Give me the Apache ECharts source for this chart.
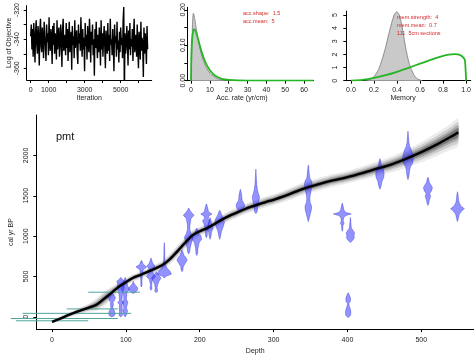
<!DOCTYPE html>
<html><head><meta charset="utf-8">
<script src="https://cdn.jsdelivr.net/npm/echarts@6/dist/echarts.min.js"></script>
<style>html,body{margin:0;padding:0;background:#fff}#c{width:474px;height:360px}</style>
</head><body><div id="c"></div>
<script>
// ---------- data ----------
const traceThin = 34;
const traceValues = [
-338,-330,-347,-333,-352,-329,-341,-356,-335,-327,-344,-350,-331,-339,-358,-334,-326,-345,-349,-332,
-340,-353,-328,-337,-346,-355,-330,-342,-336,-351,-325,-343,-348,-333,-339,-357,-331,-344,-329,-350,
-336,-341,-354,-327,-347,-338,-332,-352,-345,-330,-340,-359,-334,-326,-348,-343,-337,-351,-329,-346,
-333,-355,-339,-328,-349,-342,-335,-361,-331,-344,-338,-353,-327,-346,-340,-334,-350,-357,-330,-343,
-336,-348,-325,-341,-352,-333,-347,-339,-362,-329,-345,-337,-354,-331,-342,-349,-326,-338,-356,-335,
-344,-330,-351,-340,-365,-333,-346,-328,-343,-353,-337,-349,-332,-341,-358,-327,-347,-336,-352,-339,
-331,-345,-360,-334,-342,-350,-329,-348,-337,-355,-326,-344,-340,-351,-333,-346,-362,-330,-343,-338,
-352,-328,-347,-341,-356,-335,-349,-332,-344,-339,-353,-327,-318,-380,-336,-350,-345,-331,-342,-358,
-334,-347,-329,-351,-340,-345,-333,-355,-338,-326,-349,-343,-337,-352,-330,-346,-360,-335,-341,-354,
-328,-348,-339,-344,-366,-332,-350,-336,-343,-357,-331,-347];
const traceXTicks = [0,1000,2000,3000,4000,5000,6000];
const traceXLabels = [0,1000,3000,5000];
const traceYTicks = [-360,-350,-340,-330,-320];
const traceYLabels = [-360,-340,-320];

const accPostX = [0,0.4,0.8,1.2,1.6,2,2.5,3,4,5,6,7,8,10,12,14,16,18,20,22];
const accPost  = [0,0.09,0.165,0.19,0.185,0.172,0.156,0.14,0.11,0.085,0.065,0.05,0.038,0.021,0.012,0.006,0.003,0.0015,0.0006,0];
const accPriorX = [0,0.1,0.25,0.5,1,1.5,2,3,4,5,6,7,8,10,12,14,16,18,20,25,30,40,65];
const accPrior  = [0,0.057,0.086,0.113,0.137,0.145,0.144,0.131,0.112,0.0925,0.075,0.060,0.0476,0.0292,0.0175,0.0104,0.0061,0.0036,0.0021,0.0005,0.0001,0,0];
const accXTicks = [0,10,20,30,40,50,60];
const accYTicks = [0,0.05,0.1,0.15,0.2];
const accYLabels = [0,0.1,0.2];

const memPostX = [0.12,0.16,0.2,0.24,0.27,0.3,0.33,0.36,0.38,0.4,0.42,0.44,0.46,0.48,0.5,0.52,0.55,0.58,0.62];
const memPost  = [0,0.08,0.3,0.85,1.6,2.5,3.6,4.6,5.1,5.25,5.0,4.3,3.3,2.3,1.5,0.95,0.4,0.12,0];
const memPriorX = [0,0.1,0.2,0.3,0.4,0.5,0.6,0.7,0.8,0.85,0.9,0.95,0.98,0.99,1.0];
const memPrior  = [0,0.06,0.21,0.42,0.68,0.98,1.30,1.61,1.89,1.99,2.03,1.95,1.72,1.52,0];
const memXTicks = [0,0.2,0.4,0.6,0.8,1.0];
const memYTicks = [0,1,2,3,4,5];

const modelDepth  = [0,10,20,30,40,50,60,70,80,90,100,110,120,130,140,150,160,170,180,190,200,210,220,230,240,250,260,270,280,290,300,320,340,360,380,400,420,440,460,480,500,520,540,550];
const modelAge    = [-60,-25,15,50,85,115,150,220,295,370,430,485,520,560,600,645,720,815,915,1010,1060,1100,1150,1205,1250,1290,1330,1365,1395,1425,1450,1515,1585,1640,1690,1730,1780,1835,1890,1960,2040,2130,2230,2285];
const modelSpread = [8,10,12,14,16,20,30,35,30,22,18,18,18,18,20,22,25,28,28,25,22,22,22,22,24,24,24,25,25,26,26,28,30,30,30,30,32,34,38,42,48,55,62,66];

const dateDepth = [81,93,99,110,121,134,141,152,176,185,196,209,214,227,255,276,347,393,404,401,444,482,509,549];
const dateProfiles = [
 [[0,0],[15,0.8],[40,1.1],[70,0.9],[100,0.5],[120,0.3],[150,0.5],[180,0.4],[210,0.9],[240,1.2],[265,0.8],[285,0.3],[300,0]],
 [[0,0],[20,0.6],[60,0.4],[100,0.5],[150,0.4],[180,1.0],[200,0.4],[260,0.5],[320,0.8],[360,1.2],[400,1.0],[440,1.3],[470,0.4],[490,0]],
 [[0,0],[30,0.5],[80,0.8],[110,0.4],[180,0.9],[220,0.4],[300,0.6],[340,1.4],[380,0.9],[420,0.6],[460,0.3],[490,0]],
 [[290,0],[310,0.9],[340,1.5],[370,1.3],[395,0.6],[420,0.2],[440,0]],
 [[370,0],[390,0.2],[450,0.2],[520,0.3],[580,0.5],[620,1.8],[650,0.6],[680,0.3],[700,0]],
 [[330,0],[350,0.3],[400,0.2],[460,0.5],[500,1.5],[540,0.7],[580,0.5],[630,1.3],[670,0.5],[710,0.2],[730,0]],
 [[300,0],[320,0.5],[360,0.3],[400,0.5],[440,0.9],[480,1.6],[510,1.0],[540,0.3],[560,0]],
 [[480,0],[500,0.4],[530,2.4],[570,1.8],[600,1.0],[640,0.5],[700,0.2],[780,0.15],[860,0.1],[920,0]],
 [[560,0],[580,0.3],[620,0.4],[660,1.0],[700,1.7],[730,1.4],[760,0.7],[800,0.3],[830,0]],
 [[780,0],[800,0.3],[850,0.5],[900,0.8],[950,1.2],[990,1.4],[1030,0.8],[1080,0.4],[1130,0.4],[1180,0.6],[1220,0.8],[1260,1.8],[1290,1.0],[1320,0.4],[1350,0]],
 [[760,0],[790,0.3],[850,0.4],[920,0.8],[960,1.6],[1000,1.4],[1040,0.6],[1080,0.3],[1100,0]],
 [[980,0],[1010,0.3],[1060,0.3],[1100,0.5],[1150,0.8],[1190,1.3],[1220,0.6],[1250,0.8],[1275,1.9],[1300,0.7],[1340,0.5],[1380,0.2],[1400,0]],
 [[960,0],[1000,0.3],[1050,0.5],[1100,1.0],[1140,0.6],[1180,0.4],[1230,0]],
 [[960,0],[1000,0.3],[1060,0.6],[1120,1.2],[1170,1.6],[1220,1.3],[1260,0.7],[1300,0.3],[1320,0]],
 [[1300,0],[1320,0.7],[1360,1.4],[1400,1.3],[1440,0.6],[1480,0.5],[1520,0.4],[1560,0.15],[1580,0]],
 [[1280,0],[1300,0.4],[1350,0.6],[1400,0.8],[1450,1.1],[1490,1.2],[1530,0.8],[1580,0.5],[1640,0.3],[1700,0.2],[1760,0.1],[1830,0]],
 [[1180,0],[1220,0.3],[1280,0.7],[1320,1.0],[1370,1.1],[1420,0.6],[1470,0.5],[1520,0.7],[1580,1.0],[1630,1.3],[1680,1.1],[1720,0.5],[1780,0.3],[1860,0.1],[1880,0]],
 [[1060,0],[1080,0.15],[1130,0.2],[1160,0.6],[1190,0.3],[1230,0.5],[1255,1.2],[1275,3.0],[1295,1.0],[1330,0.5],[1370,0.3],[1410,0]],
 [[920,0],[950,0.8],[980,1.3],[1010,1.2],[1040,1.4],[1070,0.9],[1100,0.3],[1150,0.2],[1200,0.1],[1230,0]],
 [[-10,0],[20,0.8],[60,0.9],[100,0.7],[140,0.3],[165,0.2],[190,0.7],[230,0.8],[270,0.4],[300,0]],
 [[1580,0],[1620,0.4],[1680,0.7],[1730,1.3],[1780,1.4],[1830,1.2],[1870,0.5],[1920,0.3],[1960,0]],
 [[1700,0],[1740,0.3],[1800,0.5],[1860,0.8],[1900,1.5],[1960,1.8],[2010,1.6],[2060,1.2],[2110,0.6],[2160,0.3],[2220,0.2],[2300,0]],
 [[1380,0],[1410,0.3],[1450,0.5],[1490,0.9],[1530,0.6],[1560,1.2],[1600,1.5],[1640,0.9],[1670,0.4],[1700,0.3],[1730,0]],
 [[1180,0],[1220,0.3],[1270,0.6],[1310,1.4],[1340,2.3],[1370,1.2],[1420,0.5],[1470,0.3],[1510,0.2],[1550,0]]
];

const pmtAge   = [306,99,44,-20,-48];
const pmtFrom  = [49,20,-40,-56,-49];
const pmtTo    = [119,89,107,89,49];

const mainXTicks = [0,100,200,300,400,500];
const mainYTicks = [0,500,1000,1500,2000];

// ---------- chart ----------
const FONT = 'Liberation Sans';
const TXT = '#222';
function axisBase(gridIndex, min, max, ticks, labels, fmt, isY, name, nameGap, margin, namePad) {
  return {
    type: 'value', gridIndex, min, max, name: name || '',
    nameLocation: 'middle', nameGap: nameGap,
    nameRotate: isY ? 90 : 0,
    nameTextStyle: {fontFamily: FONT, fontSize: 7, color: TXT, padding: namePad || 0},
    splitLine: {show: false},
    axisLine: {show: true, onZero: false, lineStyle: {color: '#000', width: 1}},
    axisTick: {show: true, inside: false, length: 3, customValues: ticks, lineStyle: {color: '#000', width: 1}},
    axisLabel: {show: true, customValues: labels || ticks, fontFamily: FONT, fontSize: 7, color: TXT,
      margin: margin, rotate: isY ? 90 : 0, formatter: fmt || (v => String(v))}
  };
}

const chart = echarts.init(document.getElementById('c'), null, {renderer: 'canvas'});
const RED = '#d42a2a';
const redStyle = {fill: RED, font: '5.5px "Liberation Sans"'};

chart.setOption({
  animation: false,
  backgroundColor: '#fff',
  textStyle: {fontFamily: FONT},
  title: {text: 'pmt', left: 51, top: 126, textStyle: {fontFamily: FONT, fontSize: 11, fontWeight: 'normal', color: '#111'}},
  grid: [
    {left: 26.7, top: 2, width: 125, height: 78},
    {left: 187.3, top: 5, width: 126.2, height: 75.7},
    {left: 346.3, top: 11.1, width: 126.7, height: 69.6},
    {left: 26, top: 115, width: 448, height: 222.7}
  ],
  xAxis: [
    axisBase(0, -222, 6720, traceXTicks, traceXLabels, null, false, 'Iteration', 15, 6.5),
    axisBase(1, -2, 65, accXTicks, accXTicks, null, false, 'Acc. rate (yr/cm)', 14, 6, [0, 17, 0, 0]),
    axisBase(2, -0.04, 1.04, memXTicks, memXTicks, v => v.toFixed(1), false, 'Memory', 12.5, 6, [0, 11, 0, 0]),
    axisBase(3, -21.2, 571.4, mainXTicks, mainXTicks, null, false, 'Depth', 14.5, 7)
  ],
  yAxis: [
    axisBase(0, -368, -317, traceYTicks, traceYLabels, null, true, 'Log of Objective', 14, 6.5),
    axisBase(1, 0, 0.207, accYTicks, accYLabels, v => v.toFixed(2), true, '', 12, 0.5),
    axisBase(2, 0, 5.3, memYTicks, memYTicks, null, true, '', 12, 7.5),
    axisBase(3, -151, 2500, mainYTicks, mainYTicks, null, true, 'cal yr BP', 10, 6.5, [0, 20, 0, 0])
  ],
  graphic: [
    {type: 'text', z: 100, left: 243, top: 10, style: Object.assign({text: 'acc.shape:  1.5'}, redStyle)},
    {type: 'text', z: 100, left: 243, top: 18.5, style: Object.assign({text: 'acc.mean:  5'}, redStyle)},
    {type: 'text', z: 100, left: 397, top: 14, style: Object.assign({text: 'mem.strength:  4'}, redStyle)},
    {type: 'text', z: 100, left: 397, top: 22, style: Object.assign({text: 'mem.mean:  0.7'}, redStyle)},
    {type: 'text', z: 100, left: 397, top: 30, style: Object.assign({text: '111  5cm sections'}, redStyle)}
  ],
  series: [
    {type: 'line', xAxisIndex: 0, yAxisIndex: 0, symbol: 'none',
     data: traceValues.map((v, i) => [i * traceThin, v]),
     lineStyle: {color: '#000', width: 1.4}},
    {type: 'line', xAxisIndex: 1, yAxisIndex: 1, symbol: 'none', smooth: 0.2,
     data: accPostX.map((x, i) => [x, accPost[i]]),
     lineStyle: {color: '#777', width: 0.8}, areaStyle: {color: '#c9c9c9', opacity: 1}},
    {type: 'line', xAxisIndex: 1, yAxisIndex: 1, symbol: 'none', smooth: 0.2,
     data: accPriorX.map((x, i) => [x, accPrior[i]]),
     lineStyle: {color: '#25b525', width: 1.8}},
    {type: 'line', xAxisIndex: 2, yAxisIndex: 2, symbol: 'none', smooth: 0.2,
     data: memPostX.map((x, i) => [x, memPost[i]]),
     lineStyle: {color: '#777', width: 0.8}, areaStyle: {color: '#c9c9c9', opacity: 1}},
    {type: 'line', xAxisIndex: 2, yAxisIndex: 2, symbol: 'none', smooth: 0.2,
     data: memPriorX.map((x, i) => [x, memPrior[i]]),
     lineStyle: {color: '#25b525', width: 1.8}},
    // model uncertainty band
    {type: 'custom', xAxisIndex: 3, yAxisIndex: 3, clip: true,
     data: modelDepth.map((d, i) => [d, modelAge[i], modelSpread[i]]),
     encode: {x: 0, y: 1},
     renderItem: function (params, api) {
       if (params.dataIndex !== 0) return null;
       const levels = [[2.6, 0.08], [1.9, 0.12], [1.3, 0.18], [0.8, 0.28]];
       const children = [];
       levels.forEach(function (lv) {
         const up = [], dn = [];
         modelDepth.forEach(function (d, j) {
           up.push(api.coord([d, modelAge[j] + lv[0] * modelSpread[j]]));
           dn.push(api.coord([d, modelAge[j] - lv[0] * modelSpread[j]]));
         });
         children.push({type: 'polygon', shape: {points: up.concat(dn.reverse()), smooth: 0.2},
           style: {fill: 'rgba(0,0,0,' + lv[1] + ')'}});
       });
       return {type: 'group', children: children};
     }},
    {type: 'line', xAxisIndex: 3, yAxisIndex: 3, symbol: 'none', smooth: 0.3,
     data: modelDepth.map((d, i) => [d, modelAge[i]]),
     lineStyle: {color: '#000', width: 2.4}},
    // calibrated dates
    {type: 'custom', xAxisIndex: 3, yAxisIndex: 3, clip: true,
     data: dateDepth.map((d, i) => [d, dateProfiles[i][0][0]]),
     encode: {x: 0, y: 1},
     renderItem: function (params, api) {
       const i = params.dataIndex;
       const d = dateDepth[i];
       const right = [], left = [];
       dateProfiles[i].forEach(function (p) {
         const c = api.coord([d, p[0]]);
         right.push([c[0] + p[1] * 3, c[1]]);
         left.push([c[0] - p[1] * 3, c[1]]);
       });
       return {type: 'polygon', shape: {points: right.concat(left.reverse())},
         style: {fill: 'rgba(40,40,255,0.5)', stroke: 'rgba(30,30,210,0.6)', lineWidth: 0.6}};
     }},
    // post-bomb dates
    {type: 'custom', xAxisIndex: 3, yAxisIndex: 3, clip: false,
     data: pmtAge.map((a, i) => [pmtFrom[i], pmtTo[i], a]),
     encode: {x: [0, 1], y: 2},
     renderItem: function (params, api) {
       const p1 = api.coord([api.value(0), api.value(2)]);
       const p2 = api.coord([api.value(1), api.value(2)]);
       return {type: 'line', shape: {x1: p1[0], y1: p1[1], x2: p2[0], y2: p2[1]},
         style: {stroke: '#4fa59e', lineWidth: 1}};
     }}
  ]
});
</script>
</body></html>
